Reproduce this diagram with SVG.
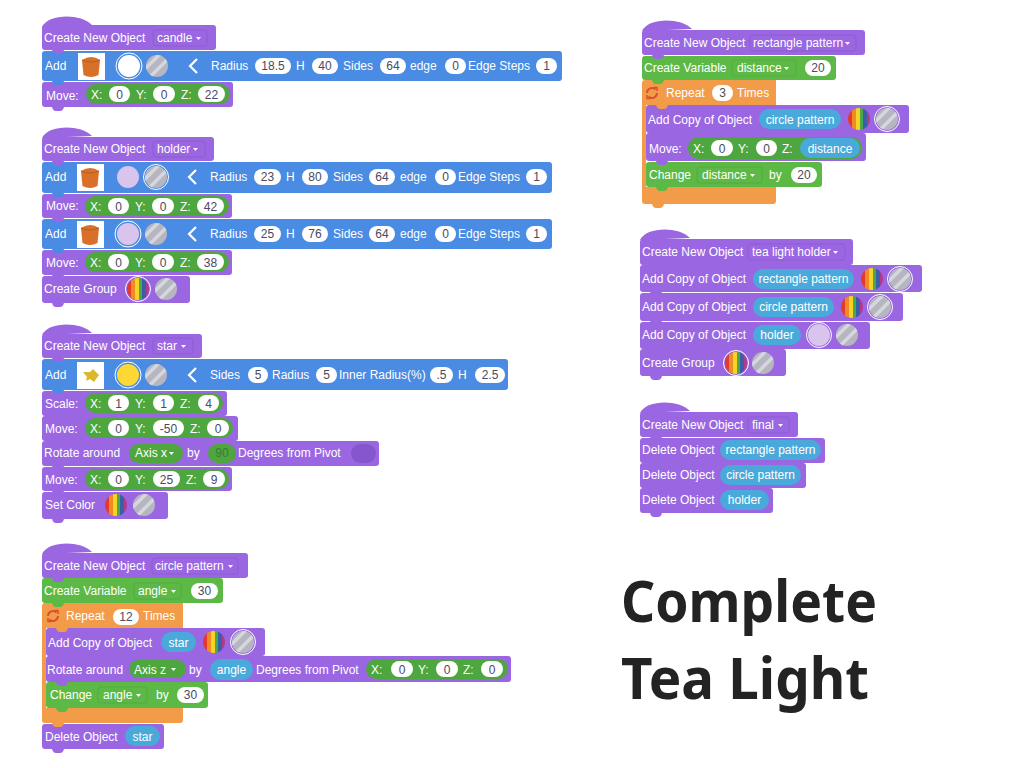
<svg xmlns="http://www.w3.org/2000/svg" width="1024" height="768" viewBox="0 0 1024 768">
<style>
text{font-family:"Liberation Sans",Arial,sans-serif;font-size:12px;fill:#fff}
.p{fill:#9a66e2}.b{fill:#4a8be3}.g{fill:#5cb946}.o{fill:#f29b48}
.dg{fill:#4ea63e}.tl{fill:#4aa9db}.dp{fill:#8458cc}
.w{fill:#fff}
.v{fill:#4a4a60;text-anchor:middle;font-size:12px}
.m{text-anchor:middle}
.dd{fill:none;stroke:#000;stroke-opacity:.08}
.ch{fill:none;stroke:#fff;stroke-width:2.2}
.title{font-family:"Noto Sans","Open Sans",sans-serif;font-weight:700;font-size:57px;fill:#232323}
</style>
<defs>
<clipPath id="cc"><circle r="11"/></clipPath>
<g id="rb"><g clip-path="url(#cc)"><rect x="-11" y="-11" width="4" height="22" fill="#e23a2e"/><rect x="-7" y="-11" width="4" height="22" fill="#f08a24"/><rect x="-3" y="-11" width="4" height="22" fill="#f5d327"/><rect x="1" y="-11" width="3" height="22" fill="#4aa84a"/><rect x="4" y="-11" width="4" height="22" fill="#3a5fa8"/><rect x="8" y="-11" width="3" height="22" fill="#b23a8a"/></g></g>
<g id="st"><circle r="11" fill="#b6b6c0"/><g clip-path="url(#cc)"><path d="M-12 3 L3 -12 M-8 12 L12 -8" stroke="#d6d6de" stroke-width="3.500"/></g></g>
<g id="sr"><use href="#st"/><circle r="12.500" fill="none" stroke="#fff" stroke-width="1"/></g>
<g id="cy"><rect width="27" height="27" fill="#fff"/><path d="M4 7 Q13.500 1 22 7 L20.500 22 Q13 26 5.500 22Z" fill="#d9702a"/><path d="M4 7 Q13 11 22 7" fill="none" stroke="#b85a1e"/></g>
<g id="si"><rect width="27" height="27" fill="#fff"/><path d="M6 10 L13 10 L16 7 L22 13 L17 20 L13 17 L9 19 L10 15Z" fill="#d9b92a"/></g>
<g id="rp" fill="none" stroke="#d9502e" stroke-width="2"><path d="M3.500 -3.500A5 5 0 0 0 -5 0"/><path d="M-3.500 3.500A5 5 0 0 0 5 0"/><path d="M1.500 -5.500h3.500v3.500M-1.500 5.500h-3.500v-3.500" stroke-width="1.500"/></g>
<path id="c" d="M0 0h5l-2.500 3z" fill="#fff"/>
<path id="hat" d="M0 10C6 -3 38 -4 50 8Z"/>
<path id="n" d="M0 0h12q-1 4-4 4h-4q-3 0-4-4z"/>
</defs>
<rect width="1024" height="768" fill="#fff"/>

<g id="candle">
<use href="#hat" x="42" y="17" class="p"/>
<rect class="p" x="42" y="25" width="174" height="25" rx="3"/>
<rect class="b" x="42" y="51" width="520" height="30" rx="3"/>
<rect class="p" x="42" y="82" width="191" height="25" rx="3"/>
<use href="#n" x="52" y="50" class="p"/><use href="#n" x="52" y="81" class="b"/><use href="#n" x="52" y="107" class="p"/>
<text x="44" y="42">Create New Object</text>
<rect class="dd" x="153" y="30" width="54" height="16" rx="3"/><text x="157" y="42">candle</text><use href="#c" x="196" y="37"/>
<text x="45" y="70">Add</text><use href="#cy" x="78" y="53"/>
<circle cx="129" cy="66" r="11" class="w"/><circle cx="129" cy="66" r="13" fill="none" stroke="#fff"/><use href="#st" x="157" y="66"/>
<path class="ch" d="M197 59l-7 7 7 7"/>
<text x="211" y="70">Radius</text><rect class="w" x="255" y="58" width="36" height="16" rx="8"/><text class="v" x="273" y="70">18.5</text>
<text x="296" y="70">H</text><rect class="w" x="312" y="58" width="26" height="16" rx="8"/><text class="v" x="325" y="70">40</text>
<text x="343" y="70">Sides</text><rect class="w" x="380" y="58" width="26" height="16" rx="8"/><text class="v" x="393" y="70">64</text>
<text x="410" y="70">edge</text><rect class="w" x="445" y="58" width="21" height="16" rx="8"/><text class="v" x="455.500" y="70">0</text>
<text x="468" y="70">Edge Steps</text><rect class="w" x="536" y="58" width="21" height="16" rx="8"/><text class="v" x="546.500" y="70">1</text>
<text x="46" y="100">Move:</text><rect class="dg" x="86" y="84" width="144" height="20" rx="10"/>
<text x="91" y="99">X:</text><rect class="w" x="109" y="86" width="21" height="16" rx="8"/><text class="v" x="119.500" y="99">0</text>
<text x="136" y="99">Y:</text><rect class="w" x="153" y="86" width="22" height="16" rx="8"/><text class="v" x="164" y="99">0</text>
<text x="181" y="99">Z:</text><rect class="w" x="198" y="86" width="27" height="16" rx="8"/><text class="v" x="211.500" y="99">22</text>
</g>

<g id="holder">
<use href="#hat" x="42" y="128" class="p"/>
<rect class="p" x="42" y="137" width="172" height="24" rx="3"/>
<rect class="b" x="42" y="162" width="510" height="31" rx="3"/>
<rect class="p" x="42" y="194" width="190" height="24" rx="3"/>
<rect class="b" x="42" y="219" width="510" height="30" rx="3"/>
<rect class="p" x="42" y="250" width="190" height="25" rx="3"/>
<rect class="p" x="42" y="276" width="148" height="27" rx="3"/>
<use href="#n" x="52" y="161" class="p"/><use href="#n" x="52" y="193" class="b"/><use href="#n" x="52" y="218" class="p"/><use href="#n" x="52" y="249" class="b"/><use href="#n" x="52" y="275" class="p"/><use href="#n" x="52" y="303" class="p"/>
<text x="44" y="153">Create New Object</text>
<rect class="dd" x="153" y="141" width="52" height="16" rx="3"/><text x="157" y="153">holder</text><use href="#c" x="193" y="148"/>
<text x="45" y="181">Add</text><use href="#cy" x="77" y="164"/>
<circle cx="128" cy="177" r="11" fill="#d8c4ec"/><use href="#sr" x="156" y="177"/>
<path class="ch" d="M196 170l-7 7 7 7"/>
<text x="210" y="181">Radius</text><rect class="w" x="254" y="169" width="27" height="16" rx="8"/><text class="v" x="267.500" y="181">23</text>
<text x="286" y="181">H</text><rect class="w" x="302" y="169" width="26" height="16" rx="8"/><text class="v" x="315" y="181">80</text>
<text x="333" y="181">Sides</text><rect class="w" x="369" y="169" width="26" height="16" rx="8"/><text class="v" x="382" y="181">64</text>
<text x="400" y="181">edge</text><rect class="w" x="435" y="169" width="21" height="16" rx="8"/><text class="v" x="445.500" y="181">0</text>
<text x="458" y="181">Edge Steps</text><rect class="w" x="526" y="169" width="21" height="16" rx="8"/><text class="v" x="536.500" y="181">1</text>
<text x="46" y="210">Move:</text><rect class="dg" x="85" y="196" width="144" height="20" rx="10"/>
<text x="90" y="211">X:</text><rect class="w" x="108" y="198" width="21" height="16" rx="8"/><text class="v" x="118.500" y="211">0</text>
<text x="135" y="211">Y:</text><rect class="w" x="152" y="198" width="22" height="16" rx="8"/><text class="v" x="163" y="211">0</text>
<text x="180" y="211">Z:</text><rect class="w" x="197" y="198" width="27" height="16" rx="8"/><text class="v" x="210.500" y="211">42</text>
<text x="45" y="238">Add</text><use href="#cy" x="77" y="221"/>
<circle cx="128" cy="234" r="11" fill="#d8c4ec"/><circle cx="128" cy="234" r="13" fill="none" stroke="#fff"/><use href="#st" x="156" y="234"/>
<path class="ch" d="M196 227l-7 7 7 7"/>
<text x="210" y="238">Radius</text><rect class="w" x="254" y="226" width="27" height="16" rx="8"/><text class="v" x="267.500" y="238">25</text>
<text x="286" y="238">H</text><rect class="w" x="302" y="226" width="26" height="16" rx="8"/><text class="v" x="315" y="238">76</text>
<text x="333" y="238">Sides</text><rect class="w" x="369" y="226" width="26" height="16" rx="8"/><text class="v" x="382" y="238">64</text>
<text x="400" y="238">edge</text><rect class="w" x="435" y="226" width="21" height="16" rx="8"/><text class="v" x="445.500" y="238">0</text>
<text x="458" y="238">Edge Steps</text><rect class="w" x="526" y="226" width="21" height="16" rx="8"/><text class="v" x="536.500" y="238">1</text>
<text x="46" y="267">Move:</text><rect class="dg" x="85" y="252" width="144" height="20" rx="10"/>
<text x="90" y="267">X:</text><rect class="w" x="108" y="254" width="21" height="16" rx="8"/><text class="v" x="118.500" y="267">0</text>
<text x="135" y="267">Y:</text><rect class="w" x="152" y="254" width="22" height="16" rx="8"/><text class="v" x="163" y="267">0</text>
<text x="180" y="267">Z:</text><rect class="w" x="197" y="254" width="27" height="16" rx="8"/><text class="v" x="210.500" y="267">38</text>
<text x="44" y="293">Create Group</text><circle cx="138" cy="289" r="12.500" fill="none" stroke="#fff"/><use href="#rb" x="138" y="289"/><use href="#st" x="166" y="289"/>
</g>

<g id="star">
<use href="#hat" x="42" y="325" class="p"/>
<rect class="p" x="42" y="334" width="160" height="24" rx="3"/>
<rect class="b" x="42" y="359" width="466" height="31" rx="3"/>
<rect class="p" x="42" y="391" width="185" height="25" rx="3"/>
<rect class="p" x="42" y="416" width="196" height="25" rx="3"/>
<rect class="p" x="42" y="441" width="337" height="25" rx="3"/>
<rect class="p" x="42" y="467" width="190" height="24" rx="3"/>
<rect class="p" x="42" y="492" width="126" height="27" rx="3"/>
<use href="#n" x="52" y="358" class="p"/><use href="#n" x="52" y="390" class="b"/><use href="#n" x="52" y="416" class="p"/><use href="#n" x="52" y="441" class="p"/><use href="#n" x="52" y="466" class="p"/><use href="#n" x="52" y="491" class="p"/><use href="#n" x="52" y="519" class="p"/>
<text x="44" y="350">Create New Object</text>
<rect class="dd" x="153" y="338" width="40" height="16" rx="3"/><text x="157" y="350">star</text><use href="#c" x="181" y="345"/>
<text x="45" y="379">Add</text><use href="#si" x="77" y="362"/>
<circle cx="128" cy="375" r="11" fill="#fdd835"/><circle cx="128" cy="375" r="13" fill="none" stroke="#fff"/><use href="#st" x="156" y="375"/>
<path class="ch" d="M196 368l-7 7 7 7"/>
<text x="210" y="379">Sides</text><rect class="w" x="248" y="367" width="20" height="16" rx="8"/><text class="v" x="258" y="379">5</text>
<text x="272" y="379">Radius</text><rect class="w" x="316" y="367" width="21" height="16" rx="8"/><text class="v" x="326.500" y="379">5</text>
<text x="339" y="379">Inner Radius(%)</text><rect class="w" x="430" y="367" width="23" height="16" rx="8"/><text class="v" x="441.500" y="379">.5</text>
<text x="458" y="379">H</text><rect class="w" x="475" y="367" width="30" height="16" rx="8"/><text class="v" x="490" y="379">2.5</text>
<text x="45" y="408">Scale:</text><rect class="dg" x="85" y="393" width="138" height="20" rx="10"/>
<text x="90" y="408">X:</text><rect class="w" x="108" y="395" width="21" height="16" rx="8"/><text class="v" x="118.500" y="408">1</text>
<text x="135" y="408">Y:</text><rect class="w" x="153" y="395" width="21" height="16" rx="8"/><text class="v" x="163.500" y="408">1</text>
<text x="180" y="408">Z:</text><rect class="w" x="198" y="395" width="21" height="16" rx="8"/><text class="v" x="208.500" y="408">4</text>
<text x="45" y="433">Move:</text><rect class="dg" x="85" y="418" width="148" height="20" rx="10"/>
<text x="90" y="433">X:</text><rect class="w" x="108" y="420" width="21" height="16" rx="8"/><text class="v" x="118.500" y="433">0</text>
<text x="135" y="433">Y:</text><rect class="w" x="153" y="420" width="31" height="16" rx="8"/><text class="v" x="168.500" y="433">-50</text>
<text x="190" y="433">Z:</text><rect class="w" x="207" y="420" width="22" height="16" rx="8"/><text class="v" x="218" y="433">0</text>
<text x="44" y="457">Rotate around</text><rect class="dg" x="129" y="444" width="54" height="19" rx="9.500"/><text x="135" y="457">Axis x</text><use href="#c" x="169" y="452"/>
<text x="187" y="457">by</text><rect class="dg" x="208" y="444" width="28" height="19" rx="9.500"/><text class="m" x="222" y="457" style="fill:#3f7a3a">90</text>
<text x="238" y="457">Degrees from Pivot</text><rect class="dp" x="351" y="444" width="25" height="19" rx="9.500"/>
<text x="45" y="484">Move:</text><rect class="dg" x="85" y="469" width="144" height="20" rx="10"/>
<text x="90" y="484">X:</text><rect class="w" x="108" y="471" width="21" height="16" rx="8"/><text class="v" x="118.500" y="484">0</text>
<text x="135" y="484">Y:</text><rect class="w" x="153" y="471" width="27" height="16" rx="8"/><text class="v" x="166.500" y="484">25</text>
<text x="186" y="484">Z:</text><rect class="w" x="203" y="471" width="22" height="16" rx="8"/><text class="v" x="214" y="484">9</text>
<text x="45" y="509">Set Color</text><use href="#rb" x="116" y="505"/><use href="#st" x="144" y="505"/>
</g>

<g id="circle-pattern">
<use href="#hat" x="42" y="544" class="p"/>
<rect class="p" x="42" y="553" width="206" height="25" rx="3"/>
<rect class="g" x="42" y="578" width="181" height="25" rx="3"/>
<path class="o" d="M45 603H183V628H46V708H183V720a3 3 0 0 1-3 3H45a3 3 0 0 1-3-3V606a3 3 0 0 1 3-3Z"/>
<rect class="p" x="46" y="628" width="219" height="28" rx="3"/>
<rect class="p" x="46" y="656" width="465" height="26" rx="3"/>
<rect class="g" x="46" y="682" width="162" height="26" rx="3"/>
<rect class="p" x="42" y="724" width="122" height="25" rx="3"/>
<use href="#n" x="52" y="578" class="p"/><use href="#n" x="52" y="603" class="g"/><use href="#n" x="56" y="628" class="o"/><use href="#n" x="56" y="656" class="p"/><use href="#n" x="56" y="682" class="p"/><use href="#n" x="56" y="708" class="g"/><use href="#n" x="52" y="723" class="o"/><use href="#n" x="52" y="749" class="p"/>
<text x="44" y="570">Create New Object</text>
<rect class="dd" x="152" y="558" width="86" height="16" rx="3"/><text x="155" y="570">circle pattern</text><use href="#c" x="228" y="565"/>
<text x="44" y="595">Create Variable</text><rect class="dd" x="134" y="583" width="47" height="16" rx="3"/><text x="138" y="595">angle</text><use href="#c" x="171" y="590"/>
<rect class="w" x="191" y="583" width="27" height="16" rx="8"/><text class="v" x="204.500" y="595">30</text>
<use href="#rp" x="53" y="616"/>
<text x="66" y="620">Repeat</text><rect class="w" x="113" y="609" width="26" height="16" rx="8"/><text class="v" x="126" y="621">12</text><text x="143" y="620">Times</text>
<text x="48" y="647">Add Copy of Object</text><rect class="tl" x="161" y="632" width="35" height="20" rx="10"/><text class="m" x="178.500" y="647">star</text>
<use href="#rb" x="214" y="642"/><use href="#sr" x="243" y="642"/>
<text x="47" y="674">Rotate around</text><rect class="dg" x="129" y="660" width="57" height="18" rx="9"/><text x="134" y="674">Axis z</text><use href="#c" x="171" y="668"/>
<text x="189" y="674">by</text><rect class="tl" x="210" y="659" width="43" height="21" rx="10.500"/><text class="m" x="231.500" y="674">angle</text>
<text x="256" y="674">Degrees from Pivot</text><rect class="dg" x="366" y="659" width="142" height="20" rx="10"/>
<text x="371" y="674">X:</text><rect class="w" x="391" y="661" width="22" height="16" rx="8"/><text class="v" x="402" y="674">0</text>
<text x="418" y="674">Y:</text><rect class="w" x="436" y="661" width="22" height="16" rx="8"/><text class="v" x="447" y="674">0</text>
<text x="463" y="674">Z:</text><rect class="w" x="481" y="661" width="22" height="16" rx="8"/><text class="v" x="492" y="674">0</text>
<text x="50" y="699">Change</text><rect class="dd" x="98" y="687" width="49" height="16" rx="3"/><text x="103" y="699">angle</text><use href="#c" x="136" y="694"/>
<text x="156" y="699">by</text><rect class="w" x="177" y="687" width="27" height="16" rx="8"/><text class="v" x="190.500" y="699">30</text>
<text x="45" y="741">Delete Object</text><rect class="tl" x="125" y="726" width="35" height="20" rx="10"/><text class="m" x="142.500" y="741">star</text>
</g>

<g id="rectangle-pattern">
<use href="#hat" x="642" y="21" class="p"/>
<rect class="p" x="642" y="30" width="223" height="25" rx="3"/>
<rect class="g" x="642" y="56" width="194" height="24" rx="3"/>
<path class="o" d="M645 80H776V105H646V187H776V201a3 3 0 0 1-3 3H645a3 3 0 0 1-3-3V83a3 3 0 0 1 3-3Z"/>
<rect class="p" x="646" y="105" width="263" height="28" rx="3"/>
<rect class="p" x="646" y="133" width="220" height="28" rx="3"/>
<rect class="g" x="646" y="162" width="176" height="25" rx="3"/>
<use href="#n" x="652" y="55" class="p"/><use href="#n" x="652" y="80" class="g"/><use href="#n" x="656" y="105" class="o"/><use href="#n" x="656" y="133" class="p"/><use href="#n" x="656" y="161" class="p"/><use href="#n" x="656" y="187" class="g"/><use href="#n" x="652" y="204" class="o"/>
<text x="644" y="47">Create New Object</text>
<rect class="dd" x="750" y="35" width="106" height="16" rx="3"/><text x="753" y="47">rectangle pattern</text><use href="#c" x="845" y="42"/>
<text x="644" y="72">Create Variable</text><rect class="dd" x="732" y="60" width="64" height="16" rx="3"/><text x="737" y="72">distance</text><use href="#c" x="784" y="67"/>
<rect class="w" x="805" y="60" width="26" height="16" rx="8"/><text class="v" x="818" y="72">20</text>
<use href="#rp" x="652" y="93"/>
<text x="666" y="97">Repeat</text><rect class="w" x="712" y="85" width="21" height="16" rx="8"/><text class="v" x="722.500" y="97">3</text><text x="737" y="97">Times</text>
<text x="648" y="124">Add Copy of Object</text><rect class="tl" x="759" y="109" width="82" height="20" rx="10"/><text class="m" x="800" y="124">circle pattern</text>
<use href="#rb" x="859" y="119"/><use href="#sr" x="887" y="119"/>
<text x="649" y="153">Move:</text><rect class="dg" x="688" y="137" width="174" height="22" rx="11"/>
<text x="693" y="153">X:</text><rect class="w" x="711" y="140" width="22" height="16" rx="8"/><text class="v" x="722" y="153">0</text>
<text x="738" y="153">Y:</text><rect class="w" x="756" y="140" width="21" height="16" rx="8"/><text class="v" x="766.500" y="153">0</text>
<text x="782" y="153">Z:</text><rect class="tl" x="800" y="138" width="60" height="20" rx="10"/><text class="m" x="830" y="153">distance</text>
<text x="649" y="179">Change</text><rect class="dd" x="697" y="167" width="65" height="16" rx="3"/><text x="702" y="179">distance</text><use href="#c" x="750" y="174"/>
<text x="769" y="179">by</text><rect class="w" x="791" y="167" width="26" height="16" rx="8"/><text class="v" x="804" y="179">20</text>
</g>

<g id="tea-light-holder">
<use href="#hat" x="640" y="230" class="p"/>
<rect class="p" x="640" y="239" width="213" height="26" rx="3"/>
<rect class="p" x="640" y="265" width="282" height="27" rx="3"/>
<rect class="p" x="640" y="293" width="263" height="28" rx="3"/>
<rect class="p" x="640" y="322" width="230" height="27" rx="3"/>
<rect class="p" x="640" y="349" width="146" height="27" rx="3"/>
<use href="#n" x="650" y="265" class="p"/><use href="#n" x="650" y="292" class="p"/><use href="#n" x="650" y="321" class="p"/><use href="#n" x="650" y="349" class="p"/><use href="#n" x="650" y="376" class="p"/>
<text x="642" y="256">Create New Object</text>
<rect class="dd" x="748" y="244" width="97" height="16" rx="3"/><text x="752" y="256">tea light holder</text><use href="#c" x="833" y="251"/>
<text x="642" y="283">Add Copy of Object</text><rect class="tl" x="753" y="269" width="101" height="20" rx="10"/><text class="m" x="803.500" y="283">rectangle pattern</text><use href="#rb" x="872" y="279"/><use href="#sr" x="900" y="279"/>
<text x="642" y="311">Add Copy of Object</text><rect class="tl" x="753" y="297" width="81" height="20" rx="10"/><text class="m" x="793.500" y="311">circle pattern</text><use href="#rb" x="852" y="307"/><use href="#sr" x="880" y="307"/>
<text x="642" y="339">Add Copy of Object</text><rect class="tl" x="753" y="325" width="48" height="20" rx="10"/><text class="m" x="777" y="339">holder</text><circle cx="819" cy="335" r="11" fill="#d8c4ec"/><circle cx="819" cy="335" r="12.500" fill="none" stroke="#fff"/><use href="#st" x="847" y="335"/>
<text x="642" y="367">Create Group</text><use href="#rb" x="736" y="363"/><circle cx="736" cy="363" r="12.500" fill="none" stroke="#fff"/><use href="#st" x="763" y="363"/>
</g>

<g id="final">
<use href="#hat" x="640" y="403" class="p"/>
<rect class="p" x="640" y="412" width="158" height="25" rx="3"/>
<rect class="p" x="640" y="438" width="185" height="25" rx="3"/>
<rect class="p" x="640" y="463" width="166" height="25" rx="3"/>
<rect class="p" x="640" y="488" width="133" height="25" rx="3"/>
<use href="#n" x="650" y="437" class="p"/><use href="#n" x="650" y="463" class="p"/><use href="#n" x="650" y="488" class="p"/><use href="#n" x="650" y="513" class="p"/>
<text x="642" y="429">Create New Object</text>
<rect class="dd" x="748" y="417" width="41" height="16" rx="3"/><text x="752" y="429">final</text><use href="#c" x="778" y="424"/>
<text x="642" y="454">Delete Object</text><rect class="tl" x="720" y="440" width="101" height="20" rx="10"/><text class="m" x="770.500" y="454">rectangle pattern</text>
<text x="642" y="479">Delete Object</text><rect class="tl" x="720" y="465" width="81" height="20" rx="10"/><text class="m" x="760.500" y="479">circle pattern</text>
<text x="642" y="504">Delete Object</text><rect class="tl" x="720" y="490" width="49" height="20" rx="10"/><text class="m" x="744.500" y="504">holder</text>
</g>

<text class="title" x="621" y="622" textLength="256" lengthAdjust="spacingAndGlyphs">Complete</text>
<text class="title" x="621" y="699" textLength="248" lengthAdjust="spacingAndGlyphs">Tea Light</text>
</svg>
